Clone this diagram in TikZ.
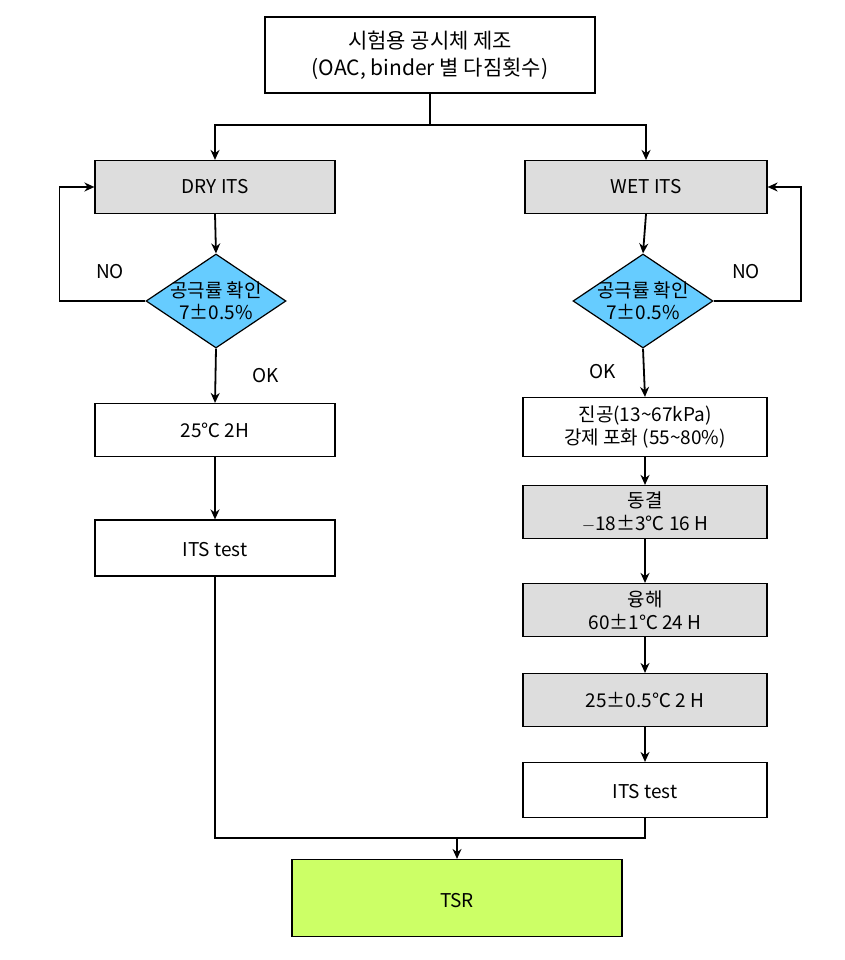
\documentclass[tikz,border=0pt]{standalone}
\usepackage{fontspec}
\setmainfont{Noto Sans CJK KR}
\usetikzlibrary{shapes.geometric,arrows.meta}
\definecolor{dia}{HTML}{66CCFF}
\definecolor{tsrc}{HTML}{CCFF66}
\definecolor{gbox}{HTML}{DDDDDD}
\begin{document}
\begin{tikzpicture}[x=1pt,y=-1pt,
 bx/.style={draw,line width=1.2pt,fill=white,minimum width=#1,inner sep=0pt,align=center,font=\fontsize{19}{23}\selectfont},
 gb/.style={bx=#1,fill=gbox},
 ar/.style={-{Stealth[length=10pt,width=9pt]},line width=1.8pt},
 ln/.style={line width=1.8pt},
 lb/.style={font=\fontsize{19}{22}\selectfont}]
\useasboundingbox (0,0) rectangle (844,960);
\node[bx=330,minimum height=76,font=\fontsize{21}{27}\selectfont] (top) at (430,55) {시험용 공시체 제조\\(OAC, binder 별 다짐횟수)};
\node[gb=240,minimum height=53] (dry) at (215,187) {DRY ITS};
\node[gb=242,minimum height=53] (wet) at (646,187) {WET ITS};
\node[diamond,draw,fill=dia,line width=1.2pt,minimum width=140,minimum height=94,inner sep=0pt,aspect=1.5] (d1) at (216,301) {};
\node[lb,align=center] at (216,301) {공극률 확인\\7±0.5\%};
\node[diamond,draw,fill=dia,line width=1.2pt,minimum width=140,minimum height=94,inner sep=0pt,aspect=1.5] (d2) at (643,301) {};
\node[lb,align=center] at (643,301) {공극률 확인\\7±0.5\%};
\node[bx=240,minimum height=53] (c1) at (215,430) {25℃ 2H};
\node[bx=240,minimum height=56] (its1) at (215,548) {\\[-6pt]ITS test};
\node[bx=244,minimum height=59] (vac) at (645,427) {진공(13\textasciitilde67kPa)\\강제 포화 (55\textasciitilde80\%)};
\node[gb=244,minimum height=53] (fr) at (645,512) {동결\\$-$18±3℃ 16 H};
\node[gb=244,minimum height=53] (th) at (645,610) {융해\\60±1℃ 24 H};
\node[gb=244,minimum height=53] (cd) at (645,700) {25±0.5℃ 2 H};
\node[bx=244,minimum height=55] (its2) at (645,790) {\\[-6pt]ITS test};
\node[bx=330,minimum height=77,fill=tsrc] (tsr) at (457,898) {\\[-4pt]TSR};
\coordinate (j) at (430,125);
\draw[ln] (top.south) -- (j);
\draw[ar] (j) -| (dry.north);
\draw[ar] (j) -| (wet.north);
\draw[ar] (dry.south) -- (d1.north);
\draw[ar] (wet.south) -- (d2.north);
\draw[ar] (d1.west) -- ++(-86,0) |- (dry.west);
\draw[ar] (d2.east) -- ++(87,0) |- (wet.east);
\draw[ar] (d1.south) -- (c1.north);
\draw[ar] (d2.south) -- (vac.north);
\draw[ar] (c1.south) -- (its1.north);
\draw[ar] (vac.south) -- (fr.north);
\draw[ar] (fr.south) -- (th.north);
\draw[ar] (th.south) -- (cd.north);
\draw[ar] (cd.south) -- (its2.north);
\coordinate (b) at (457,838);
\draw[ln] (its1.south) |- (b);
\draw[ln] (its2.south) |- (b);
\draw[ar] (b) -- (tsr.north);
\node[lb] at (110,272) {NO};
\node[lb] at (266,376) {OK};
\node[lb] at (746,272) {NO};
\node[lb] at (603,372) {OK};
\end{tikzpicture}
\end{document}
